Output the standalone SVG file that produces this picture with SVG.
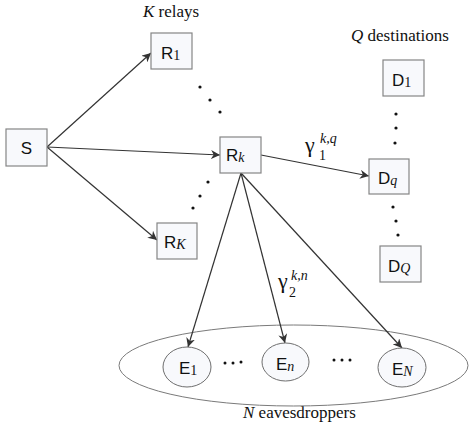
<svg xmlns="http://www.w3.org/2000/svg" width="474" height="441" viewBox="0 0 474 441">
<defs>
<style>
.box{fill:#f8f9fc;stroke:#858585;stroke-width:1.2}
.en{fill:#f8f9fc;stroke:#6e6e6e;stroke-width:1}
.grp{fill:#ffffff;stroke:#7a7a7a;stroke-width:1}
.lab{font-family:"Liberation Sans",Arial,sans-serif;font-size:17px;fill:#111}
.sub{font-family:"Liberation Serif","Times New Roman",serif;font-size:14px;fill:#111}
.it{font-style:italic}
.cap{font-family:"Liberation Serif","Times New Roman",serif;font-size:17px;fill:#111}
.gam{font-family:"Liberation Serif","Times New Roman",serif;font-size:22px;fill:#111}
.edge{stroke:#333;stroke-width:1.2;fill:none;marker-end:url(#ah)}
.dot{fill:#111}
</style>
<marker id="ah" viewBox="0 0 10 10" refX="10" refY="5" markerWidth="9" markerHeight="9" markerUnits="userSpaceOnUse" orient="auto">
<path d="M0,0 L10,5 L0,10 L3,5 z" fill="#333"/>
</marker>
</defs>
<rect width="474" height="441" fill="#ffffff"/>

<g id="captions">
<text class="cap" x="143" y="17"><tspan class="it">K</tspan> relays</text>
<text class="cap" x="351" y="41"><tspan class="it">Q</tspan> destinations</text>
<text class="cap" x="243" y="418"><tspan class="it">N</tspan> eavesdroppers</text>
</g>

<g id="eavesdropper-group">
<ellipse class="grp" cx="293.5" cy="365.5" rx="174.5" ry="40.5"/>
</g>

<g id="connectors">
<line class="edge" x1="47" y1="147" x2="151" y2="53"/>
<line class="edge" x1="47" y1="147" x2="220" y2="155"/>
<line class="edge" x1="47" y1="147" x2="157" y2="240"/>
<line class="edge" x1="261" y1="155" x2="369" y2="176"/>
<line class="edge" x1="241" y1="173" x2="188" y2="347"/>
<line class="edge" x1="241" y1="173" x2="285" y2="343"/>
<line class="edge" x1="241" y1="173" x2="402" y2="348"/>
</g>

<g id="edge-labels">
<text class="gam" x="305" y="152">γ</text>
<text class="sub" x="319" y="160">1</text>
<text class="sub it" x="320" y="143">k,q</text>
<text class="gam" x="278" y="288">γ</text>
<text class="sub" x="289" y="297">2</text>
<text class="sub it" x="291" y="280">k,n</text>
</g>

<g id="S">
<rect class="box" x="6" y="129" width="41" height="37"/>
<text class="lab" x="26.5" y="154" text-anchor="middle">S</text>
</g>
<g id="R1">
<rect class="box" x="151" y="33" width="41" height="36"/>
<text class="lab" x="161" y="59">R<tspan class="sub" dy="1">1</tspan></text>
</g>
<g id="Rk">
<rect class="box" x="220" y="137" width="41" height="36"/>
<text class="lab" x="226" y="161">R<tspan class="sub it" dy="1">k</tspan></text>
</g>
<g id="RK">
<rect class="box" x="157" y="223" width="40" height="36"/>
<text class="lab" x="164" y="248">R<tspan class="sub it" dy="1">K</tspan></text>
</g>
<g id="D1">
<rect class="box" x="383" y="60" width="41" height="36"/>
<text class="lab" x="392" y="86">D<tspan class="sub" dy="1">1</tspan></text>
</g>
<g id="Dq">
<rect class="box" x="369" y="159" width="40" height="35"/>
<text class="lab" x="378" y="184">D<tspan class="sub it" dy="1">q</tspan></text>
</g>
<g id="DQ">
<rect class="box" x="380" y="246" width="41" height="36"/>
<text class="lab" x="388" y="272">D<tspan class="sub it" dy="1">Q</tspan></text>
</g>
<g id="E1">
<ellipse class="en" cx="187" cy="367" rx="24" ry="20"/>
<text class="lab" x="179" y="374">E<tspan class="sub" dy="1">1</tspan></text>
</g>
<g id="En">
<ellipse class="en" cx="285.5" cy="362" rx="23.5" ry="19"/>
<text class="lab" x="276" y="370">E<tspan class="sub it" dy="1">n</tspan></text>
</g>
<g id="EN">
<ellipse class="en" cx="402" cy="367.5" rx="24" ry="19.5"/>
<text class="lab" x="392" y="375">E<tspan class="sub it" dy="1">N</tspan></text>
</g>

<g id="ellipsis-dots">
<circle class="dot" cx="200" cy="87" r="1.6"/>
<circle class="dot" cx="210" cy="100" r="1.6"/>
<circle class="dot" cx="220" cy="112" r="1.6"/>
<circle class="dot" cx="208" cy="182" r="1.6"/>
<circle class="dot" cx="200" cy="196" r="1.6"/>
<circle class="dot" cx="193" cy="208" r="1.6"/>
<circle class="dot" cx="396" cy="114" r="1.6"/>
<circle class="dot" cx="396" cy="128" r="1.6"/>
<circle class="dot" cx="395" cy="143" r="1.6"/>
<circle class="dot" cx="393" cy="207" r="1.6"/>
<circle class="dot" cx="396" cy="221" r="1.6"/>
<circle class="dot" cx="398" cy="235" r="1.6"/>
<circle class="dot" cx="225" cy="363" r="1.5"/>
<circle class="dot" cx="233" cy="363" r="1.5"/>
<circle class="dot" cx="241" cy="362" r="1.5"/>
<circle class="dot" cx="334" cy="360" r="1.5"/>
<circle class="dot" cx="342" cy="360" r="1.5"/>
<circle class="dot" cx="350" cy="360" r="1.5"/>
</g>
</svg>
